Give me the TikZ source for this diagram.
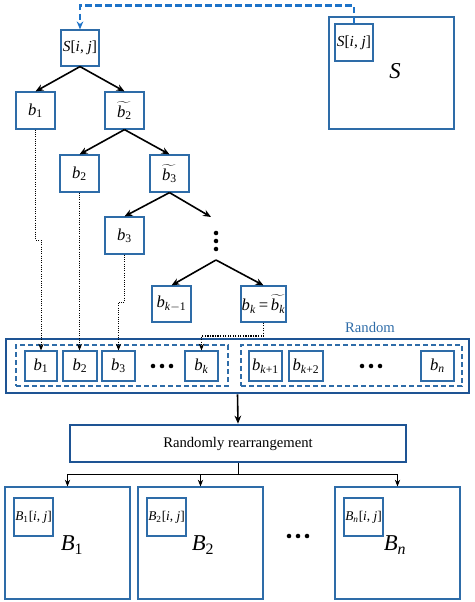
\documentclass[tikz,border=0pt]{standalone}
\usepackage{fontspec}
\setmainfont{Liberation Serif}
\usetikzlibrary{arrows.meta,calc}
\definecolor{bx}{RGB}{46,108,168}
\definecolor{bxd}{RGB}{30,84,148}
\definecolor{dsh}{RGB}{30,115,200}
\newcommand{\vb}[1]{\textit{b}\textsubscript{#1}}
\newcommand{\tbb}[1]{$\widetilde{\mbox{\vb{#1}}}$}
\newcommand{\idx}{[\textit{i}, \textit{j}]}
\begin{document}
\begin{tikzpicture}[x=0.75pt,y=-0.75pt,
  sz/.style 2 args={minimum width=#1*0.75pt,minimum height=#2*0.75pt},
  box/.style={draw=bx,line width=0.9pt,fill=white,inner sep=0pt,font=\fontsize{12.5}{14}\selectfont},
  sbox/.style={draw=bx,line width=0.9pt,fill=white,inner sep=0pt,font=\fontsize{10}{12}\selectfont},
  ssbox/.style={box,font=\fontsize{11.5}{13}\selectfont},
  bigbox/.style={draw=bx,line width=0.9pt,inner sep=0pt},
  thickbox/.style={draw=bxd,line width=2pt,inner sep=0pt},
  dbox/.style={draw=bx,line width=0.9pt,dashed,dash pattern=on 4pt off 2pt,inner sep=0pt},
  tarrow/.style={-{Stealth[length=6pt,width=5pt]},line width=1.2pt,black},
  sarrow/.style={-{Stealth[length=5pt,width=4pt]},line width=0.7pt,black},
  darrow/.style={-{Stealth[length=5pt,width=4pt]},densely dotted,line width=0.7pt,black},
  biglab/.style={font=\fontsize{17}{19}\selectfont,inner sep=0pt},
  dotmark/.style={fill=black}
]
\useasboundingbox (0,0) rectangle (474,602);

% S matrix
\node[bigbox,sz={125}{112}] (S) at (391.5,73) {};
\node[ssbox,sz={38}{37}] (sS) at (354,42.5) {\textit{S}\idx};
\node[biglab] (Slab) at (395,71) {\textit{S}};

% tree
\node[ssbox,sz={38}{36}] (top) at (80,48) {\textit{S}\idx};
\coordinate (c1) at (354,5.5);
\draw[dsh,line width=1.6pt,dash pattern=on 5pt off 2.5pt,-{Stealth[length=6pt,width=5pt]}] (sS.north) -- (c1) -| (top.north);

\node[box,sz={39}{37}] (b1) at (35.5,110.5) {\vb{1}};
\node[box,sz={39}{37}] (t2) at (124.5,110.5) {\tbb{2}};
\node[box,sz={39}{37}] (b2) at (79.5,173.5) {\vb{2}};
\node[box,sz={39}{37}] (t3) at (169.5,173.5) {\tbb{3}};
\node[box,sz={39}{37}] (b3) at (124.5,235.5) {\vb{3}};
\coordinate (e3) at (211,217);
\coordinate (br) at (216,260);
\node[box,sz={39}{36}] (bkm) at (171.5,304) {\vb{\textit{k}$-$1}};
\node[box,sz={45}{36}] (bk) at (263.5,304) {\vb{\textit{k}}\,=\,\tbb{\textit{k}}};

\draw[tarrow] (top.south) -- (b1.north);
\draw[tarrow] (top.south) -- (t2.north);
\draw[tarrow] (t2.south) -- (b2.north);
\draw[tarrow] (t2.south) -- (t3.north);
\draw[tarrow] (t3.south) -- (b3.north);
\draw[tarrow] (t3.south) -- (e3);
\fill[dotmark] (216,233) circle (1.7pt);
\fill[dotmark] (216,241) circle (1.7pt);
\fill[dotmark] (216,249) circle (1.7pt);
\draw[tarrow] (br) -- (bkm.north);
\draw[tarrow] (br) -- (bk.north);

% Random block
\node[text=bx,font=\fontsize{11}{13}\selectfont] (rl) at (370,327) {Random};
\node[thickbox,sz={463}{54}] (R) at (237.5,366) {};
\node[dbox,sz={212}{41}] (dl) at (122,365.5) {};
\node[dbox,sz={221}{41}] (dr) at (351.5,365.5) {};
\node[box,sz={32}{30}] (ib1) at (41,366) {\vb{1}};
\node[box,sz={34}{30}] (ib2) at (80,366) {\vb{2}};
\node[box,sz={33}{30}] (ib3) at (118.5,366) {\vb{3}};
\node[box,sz={33}{30}] (ibk) at (201.5,366) {\vb{\textit{k}}};
\node[box,sz={33}{30}] (ibk1) at (265.5,366) {\vb{\textit{k}+1}};
\node[box,sz={34}{30}] (ibk2) at (306,366) {\vb{\textit{k}+2}};
\node[box,sz={33}{30}] (ibn) at (437.5,366) {\vb{\textit{n}}};
\foreach \xx in {153,162,171} \fill[dotmark] (\xx,366) circle (1.7pt);
\foreach \xx in {362,371,380} \fill[dotmark] (\xx,366) circle (1.7pt);

% dotted connectors
\coordinate (j1) at (0,240);
\coordinate (j3) at (0,302);
\coordinate (jk) at (0,336);
\draw[darrow] (b1.south) -- (b1.south |- j1) -| (ib1.north);
\draw[darrow] (b2.south) -- (b2.south |- ib2.north);
\draw[darrow] (b3.south) -- (b3.south |- j3) -| (ib3.north);
\draw[darrow,line width=0.9pt] (bk.south) -- (bk.south |- jk) -| (ibk.north);

% rearrangement
\node[thickbox,sz={336}{37},font=\fontsize{11}{13}\selectfont] (rr) at (238,443.5) {Randomly rearrangement};
\draw[tarrow] (R.south) -- (rr.north);

% output blocks
\node[bigbox,sz={125}{112}] (B1) at (67.5,543) {};
\node[bigbox,sz={125}{112}] (B2) at (200.5,543) {};
\node[bigbox,sz={125}{112}] (Bn) at (397.5,543) {};
\node[sbox,sz={39}{38}] (iB1) at (33.5,517) {\textit{B}\textsubscript{1}\idx};
\node[sbox,sz={39}{38}] (iB2) at (166.5,517) {\textit{B}\textsubscript{2}\idx};
\node[sbox,sz={39}{38}] (iBn) at (363.5,517) {\textit{B}\textsubscript{\textit{n}}\idx};
\node[biglab] (lB1) at (72,545) {\textit{B}\textsubscript{1}};
\node[biglab] (lB2) at (203,545) {\textit{B}\textsubscript{2}};
\node[biglab] (lBn) at (395,545) {\textit{B}\textsubscript{\textit{n}}};
\foreach \xx in {289,298,307} \fill[dotmark] (\xx,536) circle (1.7pt);

\coordinate (sp) at (238,474);
\draw[line width=0.7pt] (rr.south) -- (sp);
\draw[sarrow] (sp) -| (B1.north);
\draw[sarrow] (sp) -| (Bn.north);
\draw[sarrow] (B2.north |- sp) -- (B2.north);
\end{tikzpicture}
\end{document}
